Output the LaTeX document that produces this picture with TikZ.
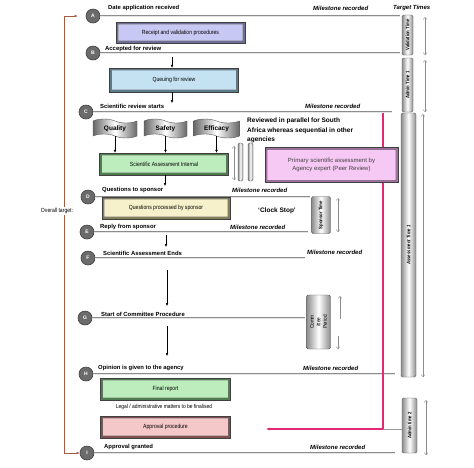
\documentclass[tikz,border=0pt]{standalone}
\usepackage{fontspec}
\setmainfont{Liberation Sans}
\newfontfamily\narrowfont[FakeStretch=0.85]{Liberation Sans}
\usetikzlibrary{arrows.meta,shapes.symbols}
\definecolor{brownline}{HTML}{A65A42}
\definecolor{magline}{RGB}{228,40,115}
\definecolor{purpleL}{HTML}{C8C8F4}
\definecolor{purpleD}{HTML}{6E6E96}
\definecolor{blueL}{HTML}{C4E2F2}
\definecolor{blueD}{HTML}{5C7C8C}
\definecolor{greenL}{HTML}{BDEDBD}
\definecolor{greenD}{HTML}{4E7E4E}
\definecolor{yellowL}{HTML}{F6F1CA}
\definecolor{yellowD}{HTML}{80805A}
\definecolor{pinkL}{HTML}{F6C8F4}
\definecolor{pinkD}{HTML}{A070A0}
\definecolor{redL}{HTML}{F4C8C8}
\definecolor{redD}{HTML}{805050}
\begin{document}
\begin{tikzpicture}[x=1pt,y=-1pt,
 stepc/.style={circle, fill=black!58, draw=black!75, line width=0.6pt, minimum size=14pt, inner sep=0pt, text=white, font=\fontsize{5}{5}\selectfont\bfseries},
 mline/.style={draw=black!45, double=black!10, double distance=1pt, line width=0.8pt},
 slabel/.style={anchor=west, inner sep=0pt, font=\fontsize{5.9}{7}\selectfont\bfseries},
 mlabel/.style={anchor=west, inner sep=0pt, font=\fontsize{6}{7}\selectfont\bfseries\itshape},
 flow/.style={-{Latex[length=3pt,width=2.6pt]}, line width=0.4pt},
 twoway/.style={{Straight Barb[length=2pt,width=3.5pt]}-{Straight Barb[length=2pt,width=3.5pt]}, draw=black!45, line width=0.4pt},
 oneway/.style={-{Straight Barb[length=2pt,width=3.5pt]}, draw=black!45, line width=0.4pt},
 bevel/.style 2 args={fill=#2, draw=black!75, line width=0.5pt, inner sep=0pt, font=\narrowfont\fontsize{6}{7}\selectfont,
   path picture={
   \fill[#1] ([shift={(2.2pt,-2.2pt)}]path picture bounding box.north west) rectangle ([shift={(-2.2pt,2.2pt)}]path picture bounding box.south east);
   \draw[black!55,line width=0.3pt] ([shift={(2.2pt,-2.2pt)}]path picture bounding box.north west) rectangle ([shift={(-2.2pt,2.2pt)}]path picture bounding box.south east)
     (path picture bounding box.north west) -- ++(2.2pt,-2.2pt)
     (path picture bounding box.north east) -- ++(-2.2pt,-2.2pt)
     (path picture bounding box.south west) -- ++(2.2pt,2.2pt)
     (path picture bounding box.south east) -- ++(-2.2pt,2.2pt);
   }},
 bar/.style={rounded corners=1.5pt, draw=black!65, line width=0.4pt, left color=black!45, right color=black!45, middle color=white, inner sep=0pt},
 bartext/.style={rotate=90, inner sep=0pt, align=center, font=\narrowfont\fontsize{5}{5.5}\selectfont\bfseries},
 tapebox/.style={tape, draw=black!65, line width=0.4pt, tape bend top=out and in, tape bend bottom=out and in, tape bend height=4pt, left color=black!60, right color=black!60, middle color=white, minimum height=19pt, inner sep=0pt, font=\fontsize{6.5}{7}\selectfont\bfseries},
 magconn/.style={draw=magline, line width=1.15pt}
]
\useasboundingbox (0,0) rectangle (474,467);

% step circles
\node[stepc] (A) at (93,16) {A};
\node[stepc] (B) at (93,53) {B};
\node[stepc] (C) at (86,112) {C};
\node[stepc] (D) at (88,197) {D};
\node[stepc] (E) at (87,232) {E};
\node[stepc] (F) at (88,258) {F};
\node[stepc] (G) at (85,318) {G};
\node[stepc] (H) at (86,374) {H};
\node[stepc] (I) at (87,453) {I};

% milestone lines
\coordinate (Ae) at (400,16);
\coordinate (Be) at (400,53);
\coordinate (Ce) at (392,112);
\coordinate (De) at (310,197);
\coordinate (Ee) at (308,232);
\coordinate (Fe) at (305,258);
\coordinate (Ge) at (305,318);
\coordinate (He) at (395,374);
\coordinate (Ie) at (395,453);
\foreach \s in {A,B,C,D,E,F,G,H,I}{\draw[mline] (\s.east) -- (\s e);}

% labels
\node[slabel] (Al) at (108,8) {Date application received};
\node[mlabel] (Am) at (313,8) {Milestone recorded};
\node[mlabel] (tt) at (393,8) {Target Times};
\node[slabel] (Bl) at (105,49) {Accepted for review};
\node[slabel] (Cl) at (100,106) {Scientific review starts};
\node[mlabel] (Cm) at (305,106) {Milestone recorded};
\node[slabel] (Dl) at (102,190) {Questions to sponsor};
\node[mlabel] (Dm) at (232,190) {Milestone recorded};
\node[slabel] (El) at (100,227) {Reply from sponsor};
\node[mlabel] (Em) at (230,227) {Milestone recorded};
\node[slabel] (Fl) at (103,253) {Scientific Assessment Ends};
\node[mlabel] (Fm) at (307,252) {Milestone recorded};
\node[slabel] (Gl) at (101,314) {Start of Committee Procedure};
\node[slabel] (Hl) at (98,368) {Opinion is given to the agency};
\node[mlabel] (Hm) at (303,368) {Milestone recorded};
\node[slabel] (Il) at (104,447) {Approval granted};
\node[mlabel] (Im) at (310,447) {Milestone recorded};

% process boxes
\node[bevel={purpleL}{purpleD}, minimum width=129pt, minimum height=21pt] (rv) at (180.5,32.5) {Receipt and validation procedures};
\node[bevel={blueL}{blueD}, minimum width=129pt, minimum height=24pt] (qr) at (174,80) {Queuing for review};
\node[bevel={greenL}{greenD}, minimum width=129pt, minimum height=22pt] (sai) at (164,164) {Scientific Assessment Internal};
\node[bevel={yellowL}{yellowD}, minimum width=128pt, minimum height=22pt] (qps) at (166,208) {Questions processed by sponsor};
\node[bevel={pinkL}{pinkD}, minimum width=133pt, minimum height=35pt, align=center, text=black!75, font=\fontsize{6}{8}\selectfont] (psa) at (331.5,165) {Primary scientific assessment by\\Agency expert (Peer Review)};
\node[bevel={greenL}{greenD}, minimum width=130pt, minimum height=22pt] (fr) at (165.5,389) {Final report};
\node[bevel={redL}{redD}, minimum width=130pt, minimum height=22pt] (ap) at (165.5,427) {Approval procedure};

% tapes
\node[tapebox, minimum width=44pt] (qual) at (115,128.5) {Quality};
\node[tapebox, minimum width=43pt] (saf) at (165.5,128.5) {Safety};
\node[tapebox, minimum width=46pt] (eff) at (216.5,128.5) {Efficacy};
\foreach \t in {qual,saf,eff}{\draw[flow] (\t.south) -- (\t.south |- sai.north);}

% flow arrows
\coordinate (b1) at (172,57);
\coordinate (c1) at (172,103);
\draw[flow] (b1) -- (qr.north -| b1);
\draw[flow] (qr.south -| b1) -- (c1);
\coordinate (d1) at (165,186);
\draw[flow] (sai.south -| d1) -- (d1);
\coordinate (e1) at (166,235);
\coordinate (f0) at (166,247);
\draw[flow] (e1) -- (f0);
\coordinate (f1) at (167,270);
\coordinate (g0) at (167,306);
\draw[flow] (f1) -- (g0);
\coordinate (g1) at (167,326);
\coordinate (h0) at (167,356);
\draw[flow] (g1) -- (h0);

% texts
\node[anchor=north west, align=left, inner sep=0pt, font=\fontsize{6.5}{9.5}\selectfont\bfseries] (rev) at (247,118) {Reviewed in parallel for South\\Africa whereas sequential in other\\agencies};
\node[font=\fontsize{6.5}{7}\selectfont\bfseries] (cs) at (277,211) {`Clock Stop'};
\node[font=\narrowfont\fontsize{5.8}{6}\selectfont] (leg) at (164,407) {Legal / administrative matters to be finalised};

% parallel bars
\node[bar, minimum width=5pt, minimum height=38pt] (pb1) at (240.5,162) {};
\node[bar, minimum width=5pt, minimum height=38pt] (pb2) at (250.5,162) {};
\coordinate (pa1) at (234,146);
\coordinate (pa2) at (234,180);
\draw[twoway] (pa1) -- (pa2);

% sponsor time
\node[bar, minimum width=19pt, minimum height=37pt] (spt) at (321,215) {};
\node[bartext] (sptt) at (spt) {Sponsor Time};
\coordinate (sa1) at (338,198);
\coordinate (sa2) at (338,232);
\draw[twoway] (sa1) -- (sa2);

% committee period
\node[bar, minimum width=24pt, minimum height=54pt] (cp) at (318.5,322) {};
\node[bartext, font=\narrowfont\fontsize{5.5}{6.5}\selectfont] (cpt) at (cp) {Comm\\ittee\\Period};
\coordinate (ca1) at (340,319);
\coordinate (ca2) at (340,296);
\draw[oneway] (ca1) -- (ca2);
\coordinate (ca3) at (338,336);
\coordinate (ca4) at (338,349);
\draw[oneway] (ca3) -- (ca4);

% target time bars
\node[bar, minimum width=11pt, minimum height=40pt] (vt) at (407.5,35) {};
\node[bartext] (vtt) at (vt) {Validation Time};
\node[bar, minimum width=11pt, minimum height=54pt] (at1) at (407.5,85) {};
\node[bartext] (at1t) at (at1) {Admin Time 1};
\node[bar, minimum width=15pt, minimum height=264pt] (ast) at (408.5,245) {};
\node[bartext, font=\narrowfont\fontsize{5}{5.5}\selectfont\bfseries\itshape] (astt) at (ast) {Assessment Time 1};
\node[bar, minimum width=15pt, minimum height=55pt] (at2) at (409.5,425.5) {};
\node[bartext] (at2t) at (at2) {Admin time 2};

\coordinate (t1) at (425,17); \coordinate (t2) at (425,55);
\coordinate (t3) at (425,60); \coordinate (t4) at (425,112);
\coordinate (t5) at (423,114); \coordinate (t6) at (423,377);
\coordinate (t7) at (426,400); \coordinate (t8) at (426,455);
\draw[twoway] (t1) -- (t2);
\draw[twoway] (t3) -- (t4);
\draw[twoway] (t5) -- (t6);
\draw[twoway] (t7) -- (t8);

% magenta connector from Admin time 2 back to approval procedure
\coordinate (mtop) at (383,113);
\coordinate (mcor) at (383,429);
\coordinate (mend) at (266,429);
\draw[black!40, line width=0.4pt] (mcor) -- (mcor -| at2.west);
\draw[magconn] (mtop) -- (mtop |- psa.north);
\draw[magconn] (mtop |- psa.south) -- (mcor);
\draw[magconn, -{Latex[length=3.5pt,width=3pt]}] (mcor) -- (mend);

% overall target bracket
\node[font=\narrowfont\fontsize{6}{6}\selectfont, fill=white, inner sep=1pt] (ot) at (57,211) {Overall target:};
\coordinate (bx) at (64,0);
\draw[brownline, line width=0.8pt, -{Latex[length=3pt,width=2.6pt]}, shorten >=8pt] (ot.north -| bx) -- (bx |- A) -- (A.west);
\draw[brownline, line width=0.8pt, -{Latex[length=3pt,width=2.6pt]}] (ot.south -| bx) -- (bx |- I) -- (I.west);
\end{tikzpicture}
\end{document}
